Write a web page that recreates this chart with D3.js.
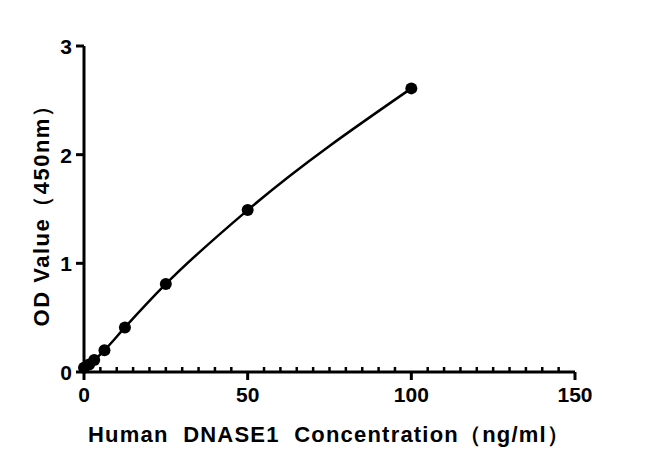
<!DOCTYPE html><html><head><script src="https://cdn.jsdelivr.net/npm/d3@7"></script>
<style>body{margin:0;background:#fff}text{font-family:"Liberation Sans",Arial,sans-serif;font-weight:bold}</style></head><body>
<svg id="c" width="650" height="471"></svg>
<script>
const conc=[0,1.56,3.125,6.25,12.5,25,50,100];
const od=[0.04,0.07,0.11,0.2,0.41,0.81,1.49,2.61];
const xTicks=[0,50,100,150];
const yTicks=[0,1,2,3];
const svg=d3.select("#c");
const x=d3.scaleLinear().domain([0,150]).range([84,575]);
const y=d3.scaleLinear().domain([0,3]).range([372,46]);
const g=svg.append("g");
g.append("line").attr("x1",x(0)).attr("x2",x(150)).attr("y1",y(0)).attr("y2",y(0)).attr("stroke","#000").attr("stroke-width",3);
d3.range(5,150,5).filter(v=>v%50).forEach(v=>g.append("line").attr("x1",x(v)).attr("x2",x(v)).attr("y1",y(0)).attr("y2",y(0)-5).attr("stroke","#000").attr("stroke-width",2.5));
xTicks.forEach(v=>{g.append("line").attr("x1",x(v)).attr("x2",x(v)).attr("y1",y(0)).attr("y2",y(0)+8).attr("stroke","#000").attr("stroke-width",3);
 g.append("text").attr("x",x(v)).attr("y",y(0)+30).attr("text-anchor","middle").attr("font-size",21).text(v);});
g.append("line").attr("x1",x(0)).attr("x2",x(0)).attr("y1",y(0)).attr("y2",y(3)).attr("stroke","#000").attr("stroke-width",3);
yTicks.forEach(v=>{g.append("line").attr("x1",x(0)).attr("x2",x(0)-8).attr("y1",y(v)).attr("y2",y(v)).attr("stroke","#000").attr("stroke-width",3);
 g.append("text").attr("x",x(0)-12).attr("y",y(v)+8).attr("text-anchor","end").attr("font-size",21).text(v);});
g.append("path").datum(conc.map((c,i)=>[c,od[i]])).attr("fill","none").attr("stroke","#000").attr("stroke-width",2.5)
 .attr("d",d3.line().x(d=>x(d[0])).y(d=>y(d[1])).curve(d3.curveMonotoneX));
g.selectAll("circle").data(conc).join("circle").attr("cx",d=>x(d)).attr("cy",(d,i)=>y(od[i])).attr("r",6).attr("fill","#000");
g.append("text").attr("x",329).attr("y",442).attr("text-anchor","middle").attr("font-size",22).attr("letter-spacing",1.2).attr("xml:space","preserve").text("Human  DNASE1  Concentration（ng/ml）");
g.append("text").attr("transform","translate(49,210) rotate(-90)").attr("text-anchor","middle").attr("font-size",22).attr("letter-spacing",1.5).text("OD Value（450nm）");
</script></body></html>
